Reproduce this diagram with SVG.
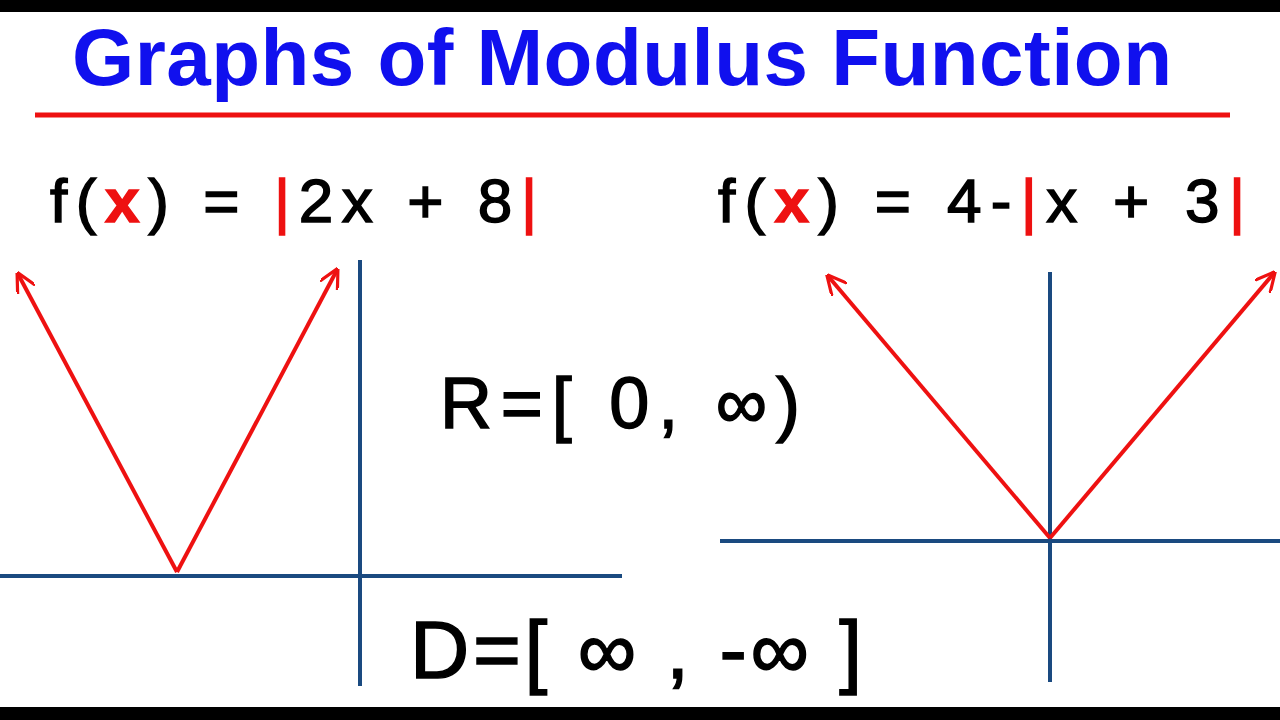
<svg xmlns="http://www.w3.org/2000/svg" width="1280" height="720" viewBox="0 0 1280 720">
<defs>
<style>
.t{font-family:"Liberation Sans",Arial,sans-serif;font-weight:normal;stroke:#000;stroke-width:1.5}
.ax{stroke:#1a4a80;stroke-width:4;fill:none}
.v{stroke:#ee1111;stroke-width:4;fill:none;marker-end:url(#ah)}
</style>
<marker id="ah" viewBox="0 0 10 10" refX="9" refY="5" markerWidth="5" markerHeight="5" orient="auto" markerUnits="strokeWidth"><path d="M0,0 L10,5 L0,10" fill="none" stroke="#ee1111" stroke-width="1.6"/></marker>
</defs>
<rect width="1280" height="720" fill="#fff"/>
<rect width="1280" height="12" fill="#000"/>
<rect y="707" width="1280" height="13" fill="#000"/>
<text x="622" y="85" font-size="80" fill="#1010ee" text-anchor="middle" font-family="Liberation Sans, Arial, sans-serif" font-weight="bold" textLength="1100" lengthAdjust="spacing">Graphs of Modulus Function</text>
<line x1="35" y1="115" x2="1230" y2="115" stroke="#ee1111" stroke-width="5"/>
<text class="t" x="50" y="222" font-size="62" textLength="487" lengthAdjust="spacing">f(<tspan fill="#ee1111" stroke="#ee1111" font-weight="bold">x</tspan>) = <tspan fill="#ee1111" stroke="#ee1111">|</tspan>2x + 8<tspan fill="#ee1111" stroke="#ee1111">|</tspan></text>
<text class="t" x="718" y="222" font-size="62" textLength="527" lengthAdjust="spacing">f(<tspan fill="#ee1111" stroke="#ee1111" font-weight="bold">x</tspan>) = 4-<tspan fill="#ee1111" stroke="#ee1111">|</tspan>x + 3<tspan fill="#ee1111" stroke="#ee1111">|</tspan></text>
<g id="left-graph">
<line class="ax" x1="0" y1="576" x2="622" y2="576"/>
<line class="ax" x1="360" y1="260" x2="360" y2="686"/>
<polyline class="v" points="177,572 18,274"/>
<polyline class="v" points="177,572 337,270"/>
</g>
<g id="right-graph">
<line class="ax" x1="720" y1="541" x2="1280" y2="541"/>
<line class="ax" x1="1050" y1="272" x2="1050" y2="682"/>
<polyline class="v" points="1050,538 828,276"/>
<polyline class="v" points="1050,538 1274,273"/>
</g>
<text class="t" x="440" y="428" font-size="72" textLength="360" lengthAdjust="spacing">R=[ 0, ∞)</text>
<text class="t" x="410" y="678" font-size="82" textLength="452" lengthAdjust="spacing">D=[ ∞ , -∞ ]</text>
</svg>
